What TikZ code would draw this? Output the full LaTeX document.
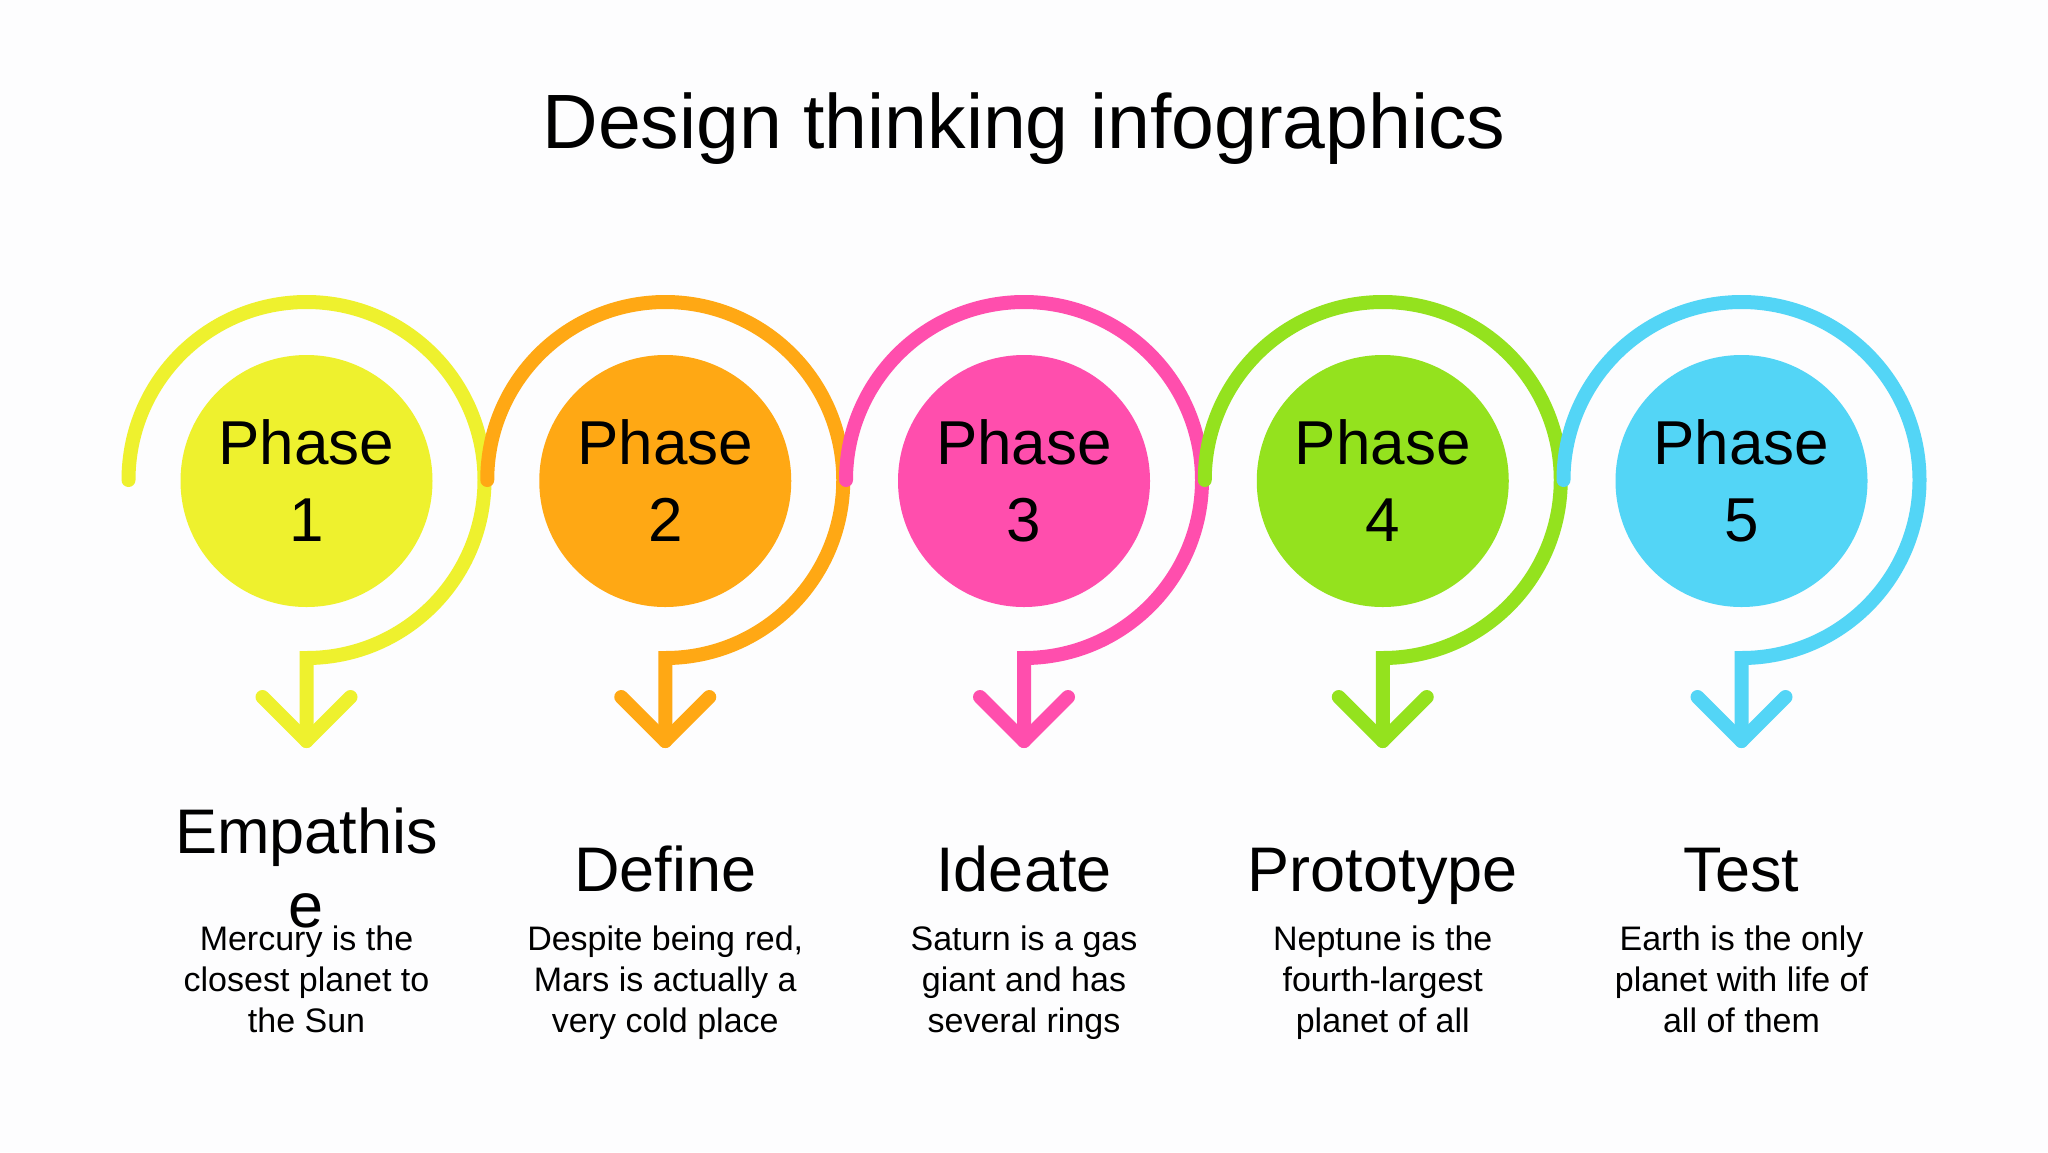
\documentclass[tikz,border=0pt]{standalone}
\usepackage{fontspec}
\setmainfont{Liberation Sans}
\definecolor{bgc}{RGB}{253,253,254}
\definecolor{cA}{RGB}{238,241,46}
\definecolor{cB}{RGB}{255,168,20}
\definecolor{cC}{RGB}{255,78,173}
\definecolor{cD}{RGB}{148,226,30}
\definecolor{cE}{RGB}{83,213,246}
\tikzset{
  ring/.style={line width=14pt, line cap=round},
  chev/.style={line width=14pt, line cap=round, line join=round},
  phasedot/.style={circle, minimum size=252pt, inner sep=0pt, align=center, font=\fontsize{62}{77}\selectfont},
  headtxt/.style={anchor=base, align=center, font=\fontsize{63}{74}\selectfont},
  bodytxt/.style={anchor=base, align=center, font=\fontsize{34}{41}\selectfont},
  titletxt/.style={anchor=base, font=\fontsize{77}{90}\selectfont},
}
\newcommand\drawphase[4]{%
  \draw[ring, #3] (#2-178,480) arc[start angle=180, end angle=450, radius=178] -- (#2,741) coordinate (t#1);
  \draw[chev, #3] (#2-44,697) -- (t#1) -- (#2+44,697);
  \node[phasedot, fill=#3] (p#1) at (#2,481) {Phase\\#4};
}
\begin{document}
\begin{tikzpicture}[x=1pt,y=-1pt]
\fill[bgc] (0,0) rectangle (2048,1152);
\useasboundingbox (0,0) rectangle (2048,1152);
\node[titletxt] (title) at (1024,148) {Design thinking infographics};
\drawphase{1}{306.5}{cA}{1}
\drawphase{2}{665.25}{cB}{2}
\drawphase{3}{1024}{cC}{3}
\drawphase{4}{1382.75}{cD}{4}
\drawphase{5}{1741.5}{cE}{5}
\node[headtxt] (h1) at (306.5,927) {Empathis\\e};
\node[headtxt] (h2) at (665.25,891) {Define};
\node[headtxt] (h3) at (1024,891) {Ideate};
\node[headtxt] (h4) at (1382.75,891) {Prototype};
\node[headtxt] (h5) at (1741.5,891) {Test};
\node[bodytxt] (b1) at (306.5,1032) {Mercury is the\\closest planet to\\the Sun};
\node[bodytxt] (b2) at (665.25,1032) {Despite being red,\\Mars is actually a\\very cold place};
\node[bodytxt] (b3) at (1024,1032) {Saturn is a gas\\giant and has\\several rings};
\node[bodytxt] (b4) at (1382.75,1032) {Neptune is the\\fourth-largest\\planet of all};
\node[bodytxt] (b5) at (1741.5,1032) {Earth is the only\\planet with life of\\all of them};
\end{tikzpicture}
\end{document}
